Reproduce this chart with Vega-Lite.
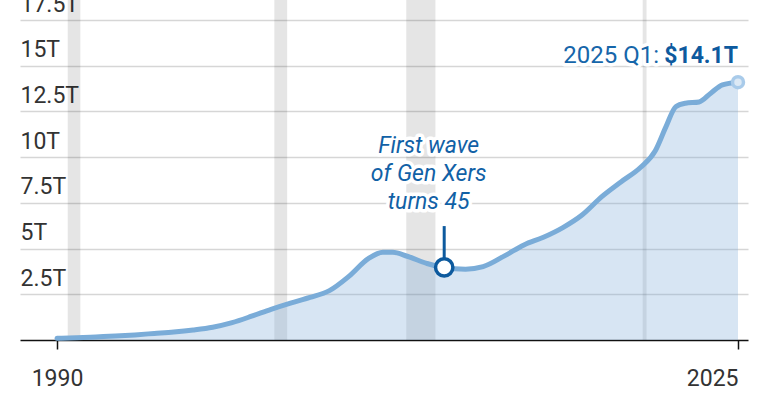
{
  "$schema": "https://vega.github.io/schema/vega-lite/v6.json",
  "width": 728,
  "height": 340,
  "autosize": "none",
  "padding": {"left": 20, "right": 20, "top": 0, "bottom": 62},
  "background": "white",
  "config": {"view": {"stroke": null}, "font": "Roboto"},
  "datasets": {
    "series": [
      {"year": 1990, "value": 0.09},
      {"year": 1991, "value": 0.12},
      {"year": 1992, "value": 0.17},
      {"year": 1993, "value": 0.22},
      {"year": 1994, "value": 0.28},
      {"year": 1995, "value": 0.36},
      {"year": 1996, "value": 0.44},
      {"year": 1997, "value": 0.55},
      {"year": 1998, "value": 0.7},
      {"year": 1999, "value": 0.95},
      {"year": 2000, "value": 1.3},
      {"year": 2001, "value": 1.68},
      {"year": 2002, "value": 2.02},
      {"year": 2003, "value": 2.33},
      {"year": 2004, "value": 2.7},
      {"year": 2005, "value": 3.48},
      {"year": 2006, "value": 4.45},
      {"year": 2006.75, "value": 4.8},
      {"year": 2007.25, "value": 4.8},
      {"year": 2008, "value": 4.58},
      {"year": 2009, "value": 4.19},
      {"year": 2009.9, "value": 3.95},
      {"year": 2011, "value": 3.87},
      {"year": 2011.9, "value": 4.01},
      {"year": 2013, "value": 4.6},
      {"year": 2014, "value": 5.2},
      {"year": 2015, "value": 5.62},
      {"year": 2016, "value": 6.15},
      {"year": 2017, "value": 6.85},
      {"year": 2018, "value": 7.84},
      {"year": 2019, "value": 8.66},
      {"year": 2020, "value": 9.45},
      {"year": 2020.75, "value": 10.35},
      {"year": 2021.3, "value": 11.67},
      {"year": 2021.8, "value": 12.76},
      {"year": 2022.3, "value": 12.95},
      {"year": 2023, "value": 13.02},
      {"year": 2023.6, "value": 13.5},
      {"year": 2024.2, "value": 13.95},
      {"year": 2025, "value": 14.1}
    ],
    "recessions": [
      {"start": 1990.55, "end": 1991.2},
      {"start": 2001.17, "end": 2001.83},
      {"start": 2007.95, "end": 2009.45},
      {"start": 2020.1, "end": 2020.3}
    ],
    "marker": [
      {"year": 2009.9, "value": 3.97, "top": 6.23}
    ],
    "note": [
      {"year": 2009.1, "value": 10.23, "label": "First wave\nof Gen Xers\nturns 45"}
    ],
    "last": [
      {"year": 2025, "value": 14.1, "labelY": 15.15, "prefix": "2025 Q1:", "amount": "$14.1T"}
    ]
  },
  "encoding": {
    "x": {
      "field": "year",
      "type": "quantitative",
      "scale": {"domain": [1988.098, 2025.514], "nice": false, "zero": false},
      "axis": {
        "title": null,
        "values": [1990, 2025],
        "format": "d",
        "grid": false,
        "labelFlush": 20,
        "domainColor": "#111",
        "domainWidth": 1.5,
        "tickColor": "#111",
        "tickWidth": 1.5,
        "tickSize": 9,
        "labelFont": "Roboto",
        "labelFontSize": 23,
        "labelColor": "#333",
        "labelBaseline": "alphabetic",
        "labelPadding": 36
      }
    },
    "y": {
      "field": "value",
      "type": "quantitative",
      "scale": {"domain": [0, 18.594], "nice": false},
      "axis": {
        "title": null,
        "values": [2.5, 5, 7.5, 10, 12.5, 15, 17.5],
        "labelExpr": "datum.value + 'T'",
        "grid": true,
        "gridColor": "#d6d6d6",
        "gridWidth": 1.5,
        "domain": false,
        "ticks": false,
        "labelAlign": "left",
        "labelBaseline": "alphabetic",
        "labelOffset": -9,
        "labelPadding": 0,
        "labelFont": "Roboto",
        "labelFontSize": 23,
        "labelColor": "#333"
      }
    }
  },
  "layer": [
    {
      "data": {"name": "recessions"},
      "mark": {"type": "rect", "fill": "#000", "opacity": 0.1},
      "encoding": {
        "x": {"field": "start", "type": "quantitative"},
        "x2": {"field": "end"},
        "y": null
      }
    },
    {
      "data": {"name": "series"},
      "mark": {"type": "area", "interpolate": "monotone", "color": "#79aad6", "opacity": 0.3}
    },
    {
      "data": {"name": "series"},
      "mark": {"type": "line", "interpolate": "monotone", "color": "#7aacd8", "strokeWidth": 5, "strokeCap": "round"}
    },
    {
      "data": {"name": "marker"},
      "mark": {"type": "rule", "color": "#0d5a9e", "strokeWidth": 3},
      "encoding": {"y2": {"field": "top"}}
    },
    {
      "data": {"name": "marker"},
      "mark": {"type": "point", "shape": "circle", "size": 300, "filled": false, "fill": "white", "fillOpacity": 1, "stroke": "#0d5a9e", "strokeWidth": 3.5, "opacity": 1}
    },
    {
      "data": {"name": "note"},
      "mark": {"type": "text", "font": "Roboto", "fontSize": 23, "fontStyle": "italic", "align": "center", "baseline": "alphabetic", "lineBreak": "\n", "lineHeight": 28, "fill": "white", "stroke": "white", "strokeWidth": 7, "strokeJoin": "round"},
      "encoding": {"text": {"field": "label"}}
    },
    {
      "data": {"name": "note"},
      "mark": {"type": "text", "font": "Roboto", "fontSize": 23, "fontStyle": "italic", "align": "center", "baseline": "alphabetic", "lineBreak": "\n", "lineHeight": 28, "color": "#1161a6"},
      "encoding": {"text": {"field": "label"}}
    },
    {
      "data": {"name": "last"},
      "mark": {"type": "text", "font": "Roboto", "fontSize": 24, "align": "right", "baseline": "alphabetic", "dx": -79, "fill": "white", "stroke": "white", "strokeWidth": 7, "strokeJoin": "round"},
      "encoding": {"y": {"field": "labelY", "type": "quantitative"}, "text": {"field": "prefix"}}
    },
    {
      "data": {"name": "last"},
      "mark": {"type": "text", "font": "Roboto", "fontSize": 24, "align": "right", "baseline": "alphabetic", "dx": -79, "color": "#1666aa"},
      "encoding": {"y": {"field": "labelY", "type": "quantitative"}, "text": {"field": "prefix"}}
    },
    {
      "data": {"name": "last"},
      "mark": {"type": "text", "font": "Roboto", "fontSize": 23, "fontWeight": "bold", "align": "right", "baseline": "alphabetic", "color": "#0d5a9e"},
      "encoding": {"y": {"field": "labelY", "type": "quantitative"}, "text": {"field": "amount"}}
    },
    {
      "data": {"name": "last"},
      "mark": {"type": "point", "shape": "circle", "size": 120, "filled": false, "fill": "#dce9f5", "fillOpacity": 1, "stroke": "#a9cbea", "strokeWidth": 3.5, "opacity": 1}
    }
  ]
}
